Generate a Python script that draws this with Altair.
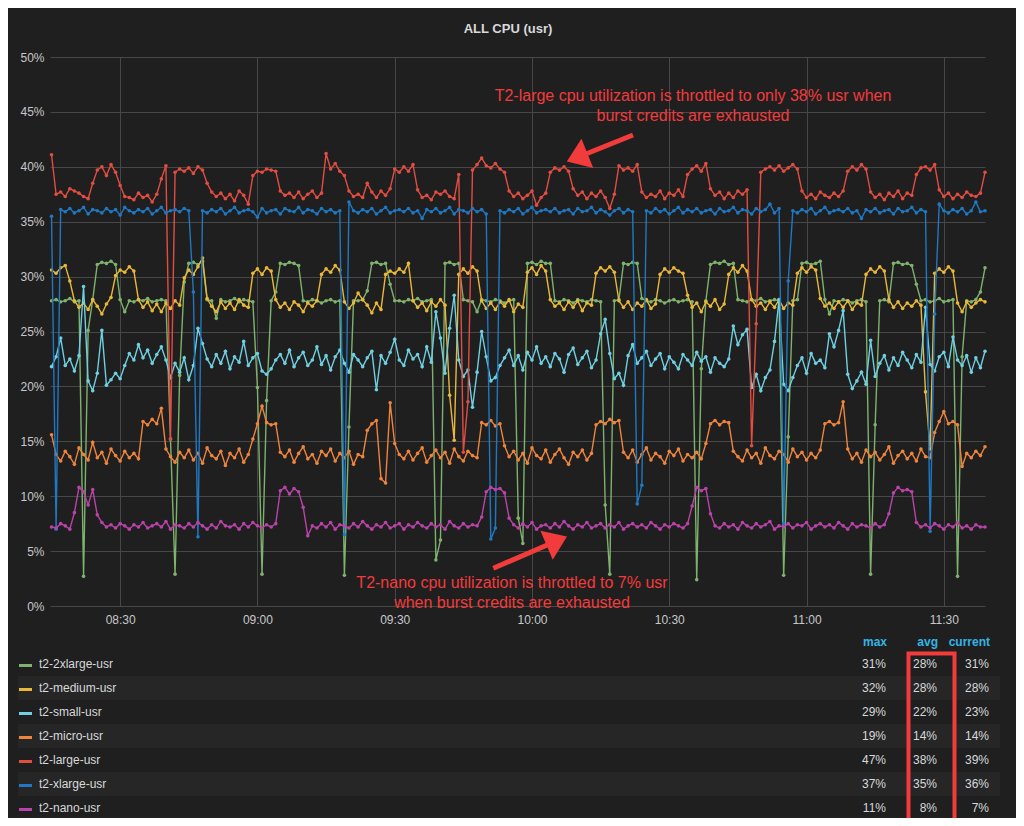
import altair as alt
import pandas as pd

SERIES = ["t2-2xlarge-usr", "t2-medium-usr", "t2-small-usr", "t2-micro-usr",
          "t2-large-usr", "t2-xlarge-usr", "t2-nano-usr"]
COLORS = ["#7EB26D", "#EAB839", "#6ED0E0", "#EF843C", "#E24D42", "#1F78C1", "#BA43A9"]

START = "2017-03-01 08:15"  # one sample per minute from here

# values in tenths of a percent
v_2xlarge = [
    278, 279, 277, 278, 280, 277, 278, 27, 251, 279,
    311, 313, 312, 314, 311, 279, 268, 278, 277, 279,
    278, 280, 277, 278, 279, 278, 152, 29, 210, 295,
    312, 313, 311, 314, 279, 278, 262, 279, 277, 278,
    280, 277, 279, 278, 277, 199, 29, 187, 278, 286,
    312, 311, 313, 312, 310, 278, 277, 279, 278, 276,
    278, 279, 277, 278, 28, 163, 278, 278, 279, 287,
    312, 313, 311, 312, 293, 278, 278, 277, 279, 278,
    280, 277, 278, 279, 42, 60, 312, 313, 311, 312,
    279, 278, 277, 268, 279, 278, 277, 279, 278, 276,
    278, 279, 80, 57, 312, 313, 311, 314, 312, 312,
    278, 277, 279, 278, 276, 279, 278, 277, 279, 278,
    277, 92, 29, 278, 279, 312, 311, 313, 312, 280,
    278, 277, 279, 278, 276, 278, 279, 277, 278, 279,
    277, 24, 216, 278, 311, 313, 312, 314, 311, 312,
    279, 278, 277, 279, 278, 280, 277, 278, 279, 278,
    28, 154, 278, 279, 312, 313, 311, 312, 314, 279,
    266, 278, 277, 279, 278, 276, 278, 279, 277, 29,
    165, 278, 279, 277, 312, 313, 311, 312, 310, 293,
    278, 279, 277, 278, 280, 277, 278, 279, 27, 227,
    278, 277, 279, 286, 308,
]

v_medium = [
    306, 303, 308, 310, 296, 278, 272, 276, 270, 279,
    273, 266, 275, 281, 301, 306, 304, 309, 305, 279,
    272, 277, 269, 275, 268, 276, 271, 278, 274, 299,
    306, 302, 309, 317, 280, 273, 268, 277, 271, 276,
    270, 279, 274, 272, 303, 307, 302, 308, 305, 279,
    272, 276, 270, 277, 274, 268, 276, 273, 278, 302,
    307, 304, 310, 306, 277, 271, 276, 285, 279, 274,
    267, 276, 270, 302, 305, 303, 307, 304, 312, 278,
    272, 276, 269, 277, 273, 279, 274, 192, 151, 302,
    307, 303, 309, 305, 278, 271, 276, 270, 277, 273,
    279, 268, 275, 272, 304, 308, 302, 310, 305, 279,
    273, 276, 270, 277, 272, 278, 269, 276, 274, 303,
    308, 305, 309, 304, 278, 272, 277, 270, 276, 273,
    279, 271, 275, 302, 307, 304, 308, 305, 303, 283,
    272, 276, 268, 277, 273, 279, 270, 275, 302, 308,
    304, 310, 305, 279, 273, 276, 270, 277, 272, 279,
    271, 276, 274, 303, 308, 304, 309, 306, 280, 273,
    276, 271, 277, 272, 278, 270, 276, 274, 302, 307,
    304, 309, 305, 279, 272, 277, 271, 276, 273, 278,
    274, 195, 143, 303, 307, 304, 309, 305, 276, 268,
    277, 272, 276, 279, 277,
]

v_small = [
    218, 227, 244, 219, 225, 214, 228, 291, 205, 196,
    212, 251, 201, 206, 212, 207, 219, 230, 224, 238,
    226, 233, 221, 229, 236, 224, 208, 221, 213, 226,
    206, 219, 253, 239, 225, 218, 229, 221, 232, 216,
    227, 222, 241, 219, 226, 230, 214, 211, 216, 224,
    229, 221, 233, 218, 226, 231, 219, 224, 236, 220,
    228, 215, 227, 233, 221, 213, 229, 224, 218, 226,
    232, 197, 228, 221, 231, 243, 224, 219, 233, 225,
    229, 218, 236, 222, 268, 244, 212, 253, 283, 224,
    209, 215, 181, 213, 250, 227, 205, 208, 219, 226,
    233, 219, 228, 215, 231, 224, 236, 221, 227, 218,
    230, 225, 213, 229, 235, 220, 226, 232, 217, 224,
    248, 261, 230, 207, 212, 201, 228, 238, 221, 226,
    232, 219, 225, 230, 216, 227, 222, 216, 229, 224,
    219, 231, 223, 227, 213, 226, 221, 218, 225, 255,
    238, 247, 252, 199, 211, 196, 208, 215, 241, 279,
    202, 196, 208, 219, 226, 212, 230, 221, 224, 217,
    248, 236, 251, 269, 211, 198, 205, 213, 202, 242,
    209, 221, 228, 215, 226, 219, 231, 224, 217, 229,
    222, 272, 220, 214, 227, 231, 218, 245, 224, 219,
    228, 213, 226, 217, 232,
]

v_micro = [
    156, 138, 132, 141, 136, 129, 144, 138, 133, 149,
    135, 140, 130, 143, 137, 132, 141, 135, 139, 134,
    168, 165, 170, 166, 180, 143, 136, 131, 140, 135,
    142, 133, 139, 130, 144, 137, 134, 141, 128, 139,
    135, 143, 131, 138, 152, 166, 182, 167, 165, 166,
    140, 136, 142, 131, 139, 145, 134, 138, 130, 141,
    137, 143, 132, 139, 135, 141, 129, 138, 136, 160,
    166, 169, 116, 112, 185, 148, 138, 134, 141, 133,
    139, 144, 131, 137, 142, 135, 140, 130, 143, 136,
    132, 141, 137, 135, 167, 165, 169, 164, 166, 146,
    136, 141, 133, 139, 130, 144, 137, 134, 142, 131,
    138, 143, 135, 129, 140, 136, 142, 133, 139, 165,
    168, 166, 170, 167, 169, 140, 135, 142, 131, 138,
    144, 133, 139, 136, 130, 141, 137, 143, 132, 138,
    135, 140, 134, 148, 166, 169, 165, 168, 167, 141,
    136, 132, 142, 135, 139, 130, 144, 137, 134, 141,
    138, 131, 143, 136, 140, 133, 139, 135, 142, 166,
    168, 165, 167, 186, 143, 134, 139, 131, 142, 136,
    140, 133, 138, 145, 130, 137, 141, 134, 139, 132,
    143, 136, 135, 158, 168, 177, 166, 168, 165, 127,
    139, 135, 141, 137, 145,
]

v_large = [
    411, 375, 377, 373, 380, 378, 376, 373, 371, 385,
    397, 400, 392, 402, 395, 383, 373, 372, 370, 376,
    372, 374, 368, 375, 389, 401, 152, 395, 398, 396,
    399, 394, 400, 397, 385, 377, 373, 376, 371, 375,
    369, 378, 374, 366, 392, 396, 395, 398, 397, 396,
    378, 374, 376, 372, 377, 371, 375, 378, 372, 376,
    412, 398, 403, 396, 392, 378, 373, 375, 372, 385,
    377, 372, 378, 374, 380, 398, 395, 400, 396, 402,
    379, 372, 374, 370, 377, 375, 378, 373, 371, 393,
    140, 186, 397, 402, 408, 401, 399, 403, 398, 395,
    378, 373, 376, 371, 374, 378, 365, 372, 376, 395,
    399, 397, 400, 396, 380, 374, 377, 371, 376, 373,
    378, 372, 362, 375, 401, 397, 399, 396, 402, 377,
    372, 375, 373, 378, 371, 376, 374, 379, 373, 393,
    398, 401, 396, 403, 380, 374, 377, 371, 376, 372,
    378, 375, 379, 146, 257, 395, 398, 400, 397, 401,
    396, 399, 402, 398, 378, 372, 375, 371, 377, 374,
    372, 376, 373, 378, 396, 400, 397, 402, 398, 377,
    372, 375, 370, 376, 373, 378, 371, 376, 374, 393,
    399, 400, 397, 402, 379, 373, 376, 371, 375, 372,
    377, 374, 373, 376, 395,
]

v_xlarge = [
    355, 70, 361, 359, 362, 358, 360, 363, 357, 361,
    360, 358, 362, 359, 361, 356, 363, 360, 358, 361,
    359, 362, 357, 360, 363, 358, 360, 361, 359, 362,
    360, 286, 63, 360, 358, 361, 359, 362, 357, 360,
    363, 358, 360, 361, 359, 354, 362, 358, 360, 361,
    357, 362, 360, 359, 363, 358, 361, 360, 357, 362,
    359, 361, 358, 360, 65, 368, 360, 358, 361, 359,
    362, 357, 360, 363, 358, 360, 361, 359, 362, 358,
    360, 353, 361, 359, 362, 358, 360, 363, 357, 361,
    360, 358, 362, 359, 361, 357, 61, 71, 360, 358,
    361, 359, 362, 357, 360, 363, 358, 360, 361, 359,
    362, 358, 360, 361, 357, 362, 359, 360, 363, 358,
    361, 359, 356, 360, 362, 358, 361, 359, 93, 110,
    360, 358, 362, 359, 361, 357, 360, 363, 358, 361,
    359, 362, 358, 360, 361, 357, 362, 359, 360, 363,
    358, 361, 360, 357, 362, 359, 361, 366, 358, 362,
    75, 296, 360, 358, 361, 359, 362, 357, 360, 363,
    358, 360, 361, 359, 362, 358, 360, 353, 361, 359,
    362, 358, 360, 361, 357, 362, 359, 360, 363, 358,
    361, 359, 68, 266, 366, 360, 358, 361, 359, 362,
    357, 360, 368, 359, 360,
]

v_nano = [
    72, 71, 75, 73, 70, 85, 108, 104, 92, 106,
    83, 76, 72, 74, 71, 75, 73, 70, 74, 72,
    76, 71, 73, 75, 72, 77, 70, 74, 73, 71,
    75, 72, 76, 73, 70, 74, 71, 77, 73, 72,
    74, 70, 75, 72, 76, 73, 71, 74, 72, 75,
    105, 108, 102, 107, 104, 90, 64, 73, 71, 75,
    72, 76, 70, 74, 73, 71, 75, 72, 77, 73,
    70, 74, 72, 76, 71, 73, 75, 70, 74, 72,
    76, 73, 71, 75, 72, 74, 70, 77, 73, 71,
    75, 72, 74, 73, 81, 104, 108, 106, 107, 103,
    80, 74, 71, 75, 72, 76, 70, 73, 74, 71,
    75, 72, 77, 73, 70, 74, 72, 76, 71, 73,
    75, 71, 74, 72, 76, 70, 73, 75, 72, 74,
    71, 76, 73, 70, 74, 72, 75, 73, 71, 75,
    91, 108, 105, 107, 84, 73, 71, 75, 72, 74,
    70, 76, 73, 71, 75, 72, 74, 77, 70, 73,
    72, 75, 71, 74, 73, 76, 70, 73, 75, 72,
    74, 71, 76, 73, 70, 75, 72, 74, 73, 71,
    75, 72, 74, 84, 103, 108, 105, 106, 104, 76,
    72, 74, 71, 75, 73, 70, 74, 72, 76, 71,
    73, 70, 74, 72, 72,
]

leg_max = [31, 32, 29, 19, 47, 37, 11]
leg_avg = [28, 28, 22, 14, 38, 35, 8]
leg_cur = [31, 28, 23, 14, 39, 36, 7]

TICK_HOURS = [8, 9, 9, 10, 10, 11, 11]
TICK_MINUTES = [30, 0, 30, 0, 30, 0, 30]

TITLE = "ALL CPU (usr)"
NOTE_TOP = ["T2-large cpu utilization is throttled to only 38% usr when",
            "burst credits are exhausted"]
NOTE_BOTTOM = ["T2-nano cpu utilization is throttled to 7% usr",
               "when burst credits are exhausted"]

# ---------------------------------------------------------------- style
BG = "#1f1f20"
GRID = "#474747"
LBL = "#c8c8c8"
TXT = "#d8d9da"
BAND = "#262627"
HEAD = "#33b5e5"
RED = "#f23b3b"
FONT = "Liberation Sans"


def dt(h, m, s=0):
    return alt.DateTime(year=2017, month=3, date=1, hours=h, minutes=m, seconds=s)


series_vals = [v_2xlarge, v_medium, v_small, v_micro, v_large, v_xlarge, v_nano]

color_scale = alt.Scale(domain=SERIES, range=COLORS)

x_enc = alt.X(
    "time:T",
    scale=alt.Scale(domain=[dt(8, 14, 40), dt(11, 39)]),
    axis=alt.Axis(format="%H:%M",
                  values=[dt(h, m) for h, m in zip(TICK_HOURS, TICK_MINUTES)],
                  title=None, grid=True, gridColor=GRID, gridWidth=1, domain=False,
                  ticks=False, labelColor=LBL, labelFont=FONT,
                  labelFontSize=12, labelPadding=8),
)
y_enc = alt.Y(
    "pct:Q",
    scale=alt.Scale(domain=[0, 50]),
    axis=alt.Axis(values=list(range(0, 55, 5)), labelExpr="datum.value + '%'",
                  title=None, grid=True, gridColor=GRID, gridWidth=1, domain=False,
                  ticks=False, labelColor=LBL, labelFont=FONT,
                  labelFontSize=12, labelPadding=6),
)

series_layers = []
for name, vals in zip(SERIES, series_vals):
    t = pd.date_range(START, periods=len(vals), freq="min")
    df = pd.DataFrame({"time": t.strftime("%Y-%m-%dT%H:%M:%S"),
                       "pct": [v / 10 for v in vals], "series": name})
    series_layers.append(
        alt.Chart(df).mark_line(
            strokeWidth=1.4,
            point=alt.OverlayMarkDef(filled=True, size=13),
        ).encode(
            x=x_enc, y=y_enc,
            color=alt.Color("series:N", scale=color_scale, legend=None),
        )
    )

# ---------------------------------------------------------------- legend table
leg = pd.DataFrame({
    "series": SERIES,
    "row": list(range(len(SERIES))),
    "maxv": [f"{v}%" for v in leg_max],
    "avgv": [f"{v}%" for v in leg_avg],
    "curv": [f"{v}%" for v in leg_cur],
})
ROW0, ROWSTEP = 607, 24
yrow = alt.Y("ry:Q", scale=None)
one = pd.DataFrame({"a": [0]})


def legend_chart():
    return alt.Chart(leg).transform_calculate(
        ry=f"{ROW0} + {ROWSTEP} * datum.row",
        ry0=f"{ROW0} + {ROWSTEP} * datum.row - {ROWSTEP / 2}",
        ry1=f"{ROW0} + {ROWSTEP} * datum.row + {ROWSTEP / 2}",
    )


bands = legend_chart().transform_filter("datum.row % 2 == 1").mark_rect(color=BAND).encode(
    x=alt.value(-32), x2=alt.value(950),
    y=alt.Y("ry0:Q", scale=None), y2="ry1:Q",
)
swatch = legend_chart().mark_rule(strokeWidth=3, yOffset=1.5).encode(
    x=alt.value(-31), x2=alt.value(-18), y=yrow,
    color=alt.Color("series:N", scale=color_scale, legend=None),
)
names = legend_chart().mark_text(align="left", baseline="middle", font=FONT,
                                 fontSize=12, color=TXT).encode(
    x=alt.value(-11), y=yrow, text="series:N")


def col(field, xpos):
    return legend_chart().mark_text(align="right", baseline="middle", font=FONT,
                                    fontSize=12, color=TXT).encode(
        x=alt.value(xpos), y=yrow, text=f"{field}:N")


def header(label, xpos):
    return alt.Chart(one).mark_text(align="right", baseline="middle", font=FONT,
                                    fontSize=12, fontWeight="bold", color=HEAD,
                                    text=label).encode(
        x=alt.value(xpos), y=alt.value(584.5))


box = alt.Chart(one).mark_rect(fillOpacity=0, stroke=RED, strokeWidth=4).encode(
    x=alt.value(858.5), x2=alt.value(904.5), y=alt.value(596.5), y2=alt.value(800))

title = alt.Chart(one).mark_text(align="center", baseline="middle", font=FONT,
                                 fontSize=13, fontWeight="bold", color=TXT,
                                 text=TITLE).encode(
    x=alt.value(458), y=alt.value(-28))


def note(text, xpos, ypos):
    return alt.Chart(one).mark_text(align="center", baseline="middle", font=FONT,
                                    fontSize=16, color=RED, text=text).encode(
        x=alt.value(xpos), y=alt.value(ypos))


def arrow(x1, y1, x2, y2, ang):
    shaft = alt.Chart(one).mark_rule(color=RED, strokeWidth=5).encode(
        x=alt.value(x1), y=alt.value(y1), x2=alt.value(x2), y2=alt.value(y2))
    head = alt.Chart(one).mark_point(shape="M0,-1L1,0.4L-1,0.4Z", filled=True,
                                     color=RED, opacity=1, size=1000,
                                     angle=ang).encode(
        x=alt.value(x2), y=alt.value(y2))
    return [shaft, head]


chart = alt.layer(
    *series_layers,
    bands, swatch, names,
    col("maxv", 836), col("avgv", 887), col("curv", 939),
    header("max", 837), header("avg", 888), header("current", 940),
    box, title,
    note(NOTE_TOP[0], 643, 39), note(NOTE_TOP[1], 643, 58.7),
    note(NOTE_BOTTOM[0], 462, 525.7), note(NOTE_BOTTOM[1], 462, 545.7),
    *arrow(583, 78, 531.5, 98.7, 248),
    *arrow(443.3, 511.3, 502.4, 485.8, 67),
).properties(
    width=935, height=549,
    autosize=alt.AutoSizeParams(type="none"),
    padding={"left": 42, "top": 49, "right": 31, "bottom": 212},
).configure(background=BG).configure_view(stroke="transparent")

chart.save("out.html", embed_options={"renderer": "svg", "actions": False})
